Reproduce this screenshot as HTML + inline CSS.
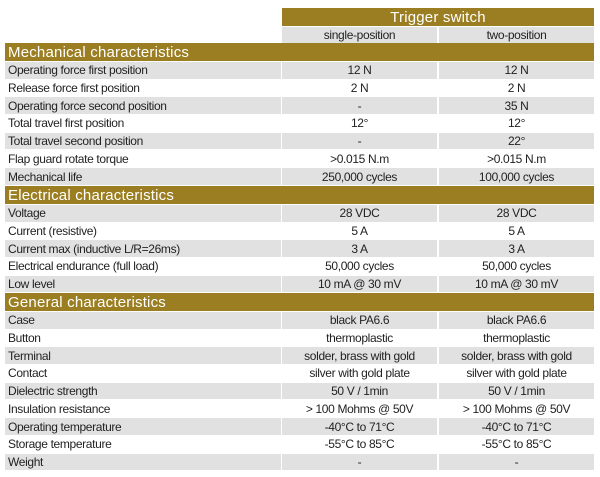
<!DOCTYPE html>
<html><head><meta charset="utf-8"><style>
body{margin:0;width:600px;height:477px;background:#fff;position:relative;font-family:"Liberation Sans",sans-serif;overflow:hidden}
.r{position:absolute;left:0;width:600px;font-size:12px;color:#222;letter-spacing:-0.35px}
.c{position:absolute;top:0;height:100%;display:flex;align-items:center;box-sizing:border-box}
.c1{left:5px;width:276px;padding-left:3px}
.c2{left:282px;width:155px;justify-content:center}
.c3{left:439px;width:155px;justify-content:center}
.g .c{background:#e1e1e1}
.sec{position:absolute;left:5px;width:589px;background:#9b7e22;color:#fff;font-size:15px;display:flex;align-items:center;padding-left:3px;box-sizing:border-box;font-weight:300;letter-spacing:0.2px}
</style></head><body>
<div class="sec" style="left:282px;width:312px;top:8px;height:18px;justify-content:center;padding:0">Trigger switch</div>
<div class="r g" style="top:27px;height:16px"><div class="c c2">single-position</div><div class="c c3">two-position</div></div>
<div id="t"></div>
<script>
const sections=[
["Mechanical characteristics",43,[["Operating force first position","12 N","12 N"],["Release force first position","2 N","2 N"],["Operating force second position","-","35 N"],["Total travel first position","12°","12°"],["Total travel second position","-","22°"],["Flap guard rotate torque",">0.015 N.m",">0.015 N.m"],["Mechanical life","250,000 cycles","100,000 cycles"]]],
["Electrical characteristics",186,[["Voltage","28 VDC","28 VDC"],["Current (resistive)","5 A","5 A"],["Current max (inductive L/R=26ms)","3 A","3 A"],["Electrical endurance (full load)","50,000 cycles","50,000 cycles"],["Low level","10 mA @ 30 mV","10 mA @ 30 mV"]]],
["General characteristics",293,[["Case","black PA6.6","black PA6.6"],["Button","thermoplastic","thermoplastic"],["Terminal","solder, brass with gold","solder, brass with gold"],["Contact","silver with gold plate","silver with gold plate"],["Dielectric strength","50 V / 1min","50 V / 1min"],["Insulation resistance","> 100 Mohms @ 50V","> 100 Mohms @ 50V"],["Operating temperature","-40°C to 71°C","-40°C to 71°C"],["Storage temperature","-55°C to 85°C","-55°C to 85°C"],["Weight","-","-"]]]];
const t=document.getElementById('t');
sections.forEach(s=>{
 const h=document.createElement('div');h.className='sec';h.style.top=s[1]+'px';h.style.height='18px';h.textContent=s[0];
 
 
 t.appendChild(h);
 s[2].forEach((row,i)=>{
  const r=document.createElement('div');r.className='r'+(i%2==0?' g':'');
  r.style.top=(s[1]+19+i*17.7)+'px';r.style.height='16.7px';
  
  
  ['c1','c2','c3'].forEach((c,j)=>{const d=document.createElement('div');d.className='c '+c;d.textContent=row[j];r.appendChild(d);});
  t.appendChild(r);
 });
});
</script>
</body></html>
